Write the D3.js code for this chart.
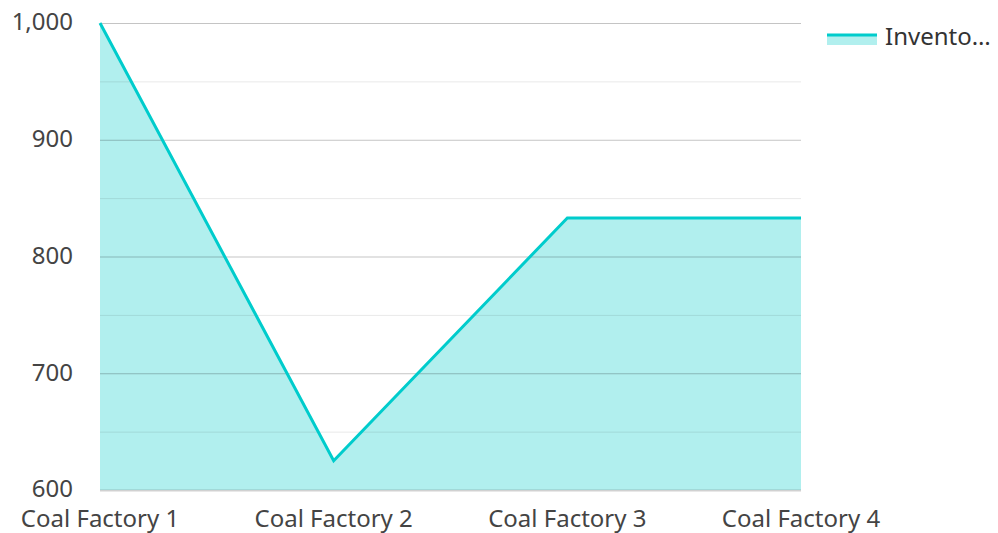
<!DOCTYPE html>
<html>
<head>
<meta charset="utf-8">
<script src="https://cdn.jsdelivr.net/npm/d3@7"></script>
<style>
  body { margin: 0; background: #fff; }
  text { font-family: "Noto Sans", "Open Sans", sans-serif; fill: #444; }
</style>
</head>
<body>
<svg id="chart" width="998" height="533"></svg>
<script>
// Chart data
const categories = ['Coal Factory 1', 'Coal Factory 2', 'Coal Factory 3', 'Coal Factory 4'];
const inventory = [1000, 625, 833, 833];
const seriesName = 'Inventory';
const yTicks = [600, 700, 800, 900, 1000];
const yMinorTicks = [650, 750, 850, 950];

const svg = d3.select('#chart');
const margin = { left: 100, right: 197, top: 23, bottom: 43 };
const width = 998 - margin.left - margin.right;
const height = 533 - margin.top - margin.bottom;

const g = svg.append('g').attr('transform', `translate(${margin.left},${margin.top})`);

const x = d3.scalePoint().domain(categories).range([0, width]);
const y = d3.scaleLinear().domain([600, 1000]).range([height, 0]);

// Area fill
const area = d3.area()
  .x((d, i) => x(categories[i]))
  .y0(height)
  .y1(d => y(d));
g.append('path')
  .datum(inventory)
  .attr('d', area)
  .attr('fill', '#b1efee');

// Gridlines drawn above the fill
g.selectAll('.minor')
  .data(yMinorTicks)
  .enter()
  .append('line')
  .attr('x1', 0).attr('x2', width)
  .attr('y1', d => y(d) + 0.5).attr('y2', d => y(d) + 0.5)
  .attr('stroke', '#000').attr('stroke-opacity', 0.09).attr('stroke-width', 1);

g.selectAll('.major')
  .data(yTicks)
  .enter()
  .append('line')
  .attr('x1', 0).attr('x2', width)
  .attr('y1', d => y(d) + 0.5).attr('y2', d => y(d) + 0.5)
  .attr('stroke', '#000').attr('stroke-opacity', d => d === 600 ? 0.18 : 0.23)
  .attr('stroke-width', d => d === 600 ? 2 : 1);

// Line
const line = d3.line()
  .x((d, i) => x(categories[i]))
  .y(d => y(d));
g.append('path')
  .datum(inventory)
  .attr('d', line)
  .attr('fill', 'none')
  .attr('stroke', '#00cccc')
  .attr('stroke-width', 3)
  .attr('stroke-linejoin', 'miter');

// Y axis labels
g.selectAll('.ylab')
  .data(yTicks)
  .enter()
  .append('text')
  .attr('x', -27)
  .attr('y', d => y(d) - 1)
  .attr('dy', '0.35em')
  .attr('text-anchor', 'end')
  .style('font-size', '24px')
  .text(d => d3.format(',')(d));

// X axis labels
g.selectAll('.xlab')
  .data(categories)
  .enter()
  .append('text')
  .attr('x', d => x(d))
  .attr('y', height + 37)
  .attr('text-anchor', 'middle')
  .style('font-size', '24px')
  .text(d => d);

// Legend (series name truncated like the original)
const legend = svg.append('g').attr('transform', 'translate(827,38)');
legend.append('rect').attr('x', 0).attr('y', -4).attr('width', 50).attr('height', 11).attr('fill', '#b1efee');
legend.append('line').attr('x1', 0).attr('x2', 50).attr('y1', -3).attr('y2', -3)
  .attr('stroke', '#00cccc').attr('stroke-width', 3);
legend.append('text')
  .attr('x', 58).attr('y', 0)
  .attr('dy', '0.3em')
  .style('font-size', '24px')
  .style('fill', '#333')
  .text(seriesName.slice(0, 7) + '…');
</script>
</body>
</html>
